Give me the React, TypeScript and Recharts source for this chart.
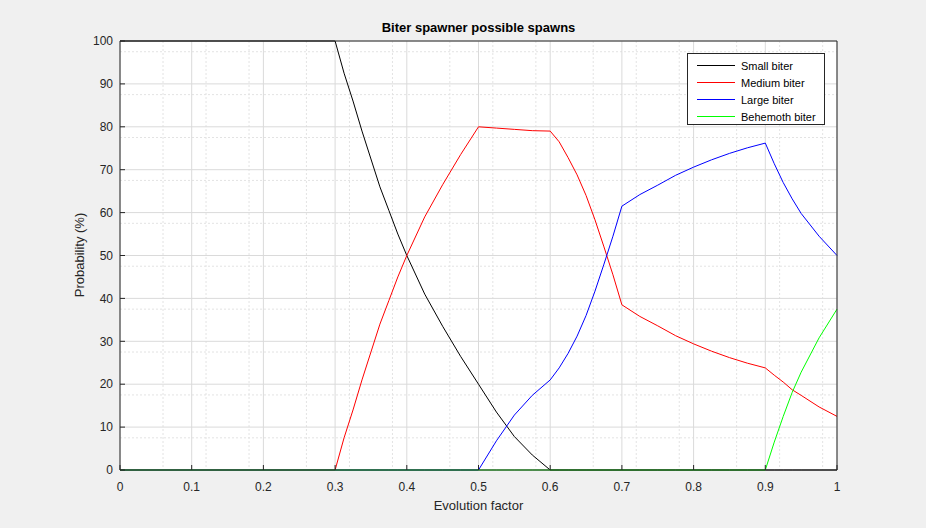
import React from 'react';
import { LineChart, Line, XAxis, YAxis, CartesianGrid } from 'recharts';

// evolution factor samples
const evolution = [
  0, 0.3,
  0.3125, 0.325, 0.3375, 0.35, 0.3625, 0.375, 0.3875, 0.4,
  0.425, 0.45, 0.475, 0.5,
  0.525, 0.55, 0.575, 0.6,
  0.6125, 0.625, 0.6375, 0.65, 0.6625, 0.675, 0.6875, 0.7,
  0.725, 0.75, 0.775, 0.8, 0.825, 0.85, 0.875, 0.9,
  0.9125, 0.925, 0.9375, 0.95, 0.975, 1,
];

// spawn probability in %
const smallBiter = [
  100, 100,
  92.5, 86, 79, 72.5, 66, 60.5, 55, 50,
  41, 33.5, 26.5, 20,
  13.5, 7.8, 3.5, 0,
  0, 0, 0, 0, 0, 0, 0, 0,
  0, 0, 0, 0, 0, 0, 0, 0,
  0, 0, 0, 0, 0, 0,
];
const mediumBiter = [
  0, 0,
  7.5, 14, 21, 27.5, 34, 39.5, 45, 50,
  59, 66.5, 73.5, 80,
  79.7, 79.4, 79.1, 79,
  76.5, 72.8, 68.8, 64, 58.3, 52, 45.5, 38.5,
  35.8, 33.6, 31.3, 29.4, 27.7, 26.2, 24.9, 23.8,
  22.1, 20.5, 18.7, 17.4, 14.7, 12.5,
];
const largeBiter = [
  0, 0,
  0, 0, 0, 0, 0, 0, 0, 0,
  0, 0, 0, 0,
  6.8, 12.8, 17.4, 21,
  23.8, 27.2, 31.2, 36, 41.7, 48, 54.5, 61.5,
  64.2, 66.4, 68.7, 70.6, 72.3, 73.8, 75.1, 76.2,
  71.4, 67, 63.2, 59.8, 54.5, 50,
];
const behemothBiter = [
  0, 0,
  0, 0, 0, 0, 0, 0, 0, 0,
  0, 0, 0, 0,
  0, 0, 0, 0,
  0, 0, 0, 0, 0, 0, 0, 0,
  0, 0, 0, 0, 0, 0, 0, 0,
  6.5, 12.5, 18.1, 22.8, 30.8, 37.5,
];

const xTicks = [0, 0.1, 0.2, 0.3, 0.4, 0.5, 0.6, 0.7, 0.8, 0.9, 1];
const yTicks = [0, 10, 20, 30, 40, 50, 60, 70, 80, 90, 100];

// minor grid: 5 steps per major x, 4 per major y
const xMinor = Array.from({ length: 51 }, (_, i) => i / 50).filter((_, i) => i % 5 !== 0);
const yMinor = Array.from({ length: 41 }, (_, i) => i * 2.5).filter((_, i) => i % 4 !== 0);

const series = [
  { key: 'small', name: 'Small biter', color: '#000000' },
  { key: 'medium', name: 'Medium biter', color: '#ff0000' },
  { key: 'large', name: 'Large biter', color: '#0000ff' },
  { key: 'behemoth', name: 'Behemoth biter', color: '#00ff00' },
];

const data = evolution.map((x, i) => ({
  x,
  small: smallBiter[i],
  medium: mediumBiter[i],
  large: largeBiter[i],
  behemoth: behemothBiter[i],
}));

const FONT = '"Liberation Sans", Arial, Helvetica, sans-serif';
const AXIS = '#262626';
const tickStyle = { fontSize: 12, fill: AXIS, fontFamily: FONT };

export default function App() {
  return (
    <div
      style={{
        position: 'absolute',
        left: 0,
        top: 0,
        width: 926,
        height: 528,
        background: '#f0f0f0',
        fontFamily: FONT,
      }}
    >
      <LineChart
        width={926}
        height={528}
        data={data}
        margin={{ top: 40, right: 88, bottom: 0, left: 60 }}
      >
        <CartesianGrid
          fill="#ffffff"
          stroke="#e3e3e3"
          strokeDasharray="2 2"
          verticalValues={xMinor}
          horizontalValues={yMinor}
        />
        <CartesianGrid stroke="#dadada" verticalValues={xTicks} horizontalValues={yTicks} />
        <XAxis
          dataKey="x"
          type="number"
          domain={[0, 1]}
          ticks={xTicks}
          height={58}
          tickSize={-5}
          tickMargin={17}
          stroke={AXIS}
          tick={tickStyle}
        />
        <XAxis
          xAxisId="top"
          orientation="top"
          dataKey="x"
          type="number"
          domain={[0, 1]}
          ticks={xTicks}
          height={1}
          tickSize={-5}
          stroke={AXIS}
          tick={false}
        />
        <YAxis
          type="number"
          domain={[0, 100]}
          ticks={yTicks}
          width={60}
          tickSize={-5}
          tickMargin={12}
          stroke={AXIS}
          tick={tickStyle}
        />
        <YAxis
          yAxisId="right"
          orientation="right"
          type="number"
          domain={[0, 100]}
          ticks={yTicks}
          width={1}
          tickSize={-5}
          stroke={AXIS}
          tick={false}
        />
        {series.map((s) => (
          <Line
            key={s.key}
            type="linear"
            dataKey={s.key}
            name={s.name}
            stroke={s.color}
            strokeWidth={1}
            dot={false}
            activeDot={false}
            isAnimationActive={false}
          />
        ))}
      </LineChart>

      <div
        style={{
          position: 'absolute',
          left: 120,
          width: 717,
          top: 20,
          textAlign: 'center',
          fontSize: 13,
          fontWeight: 'bold',
          lineHeight: '16px',
          color: '#000',
        }}
      >
        Biter spawner possible spawns
      </div>
      <div
        style={{
          position: 'absolute',
          left: 120,
          width: 717,
          top: 498,
          textAlign: 'center',
          fontSize: 13,
          lineHeight: '16px',
          color: AXIS,
        }}
      >
        Evolution factor
      </div>
      <div
        style={{
          position: 'absolute',
          left: 80,
          top: 255,
          transform: 'translate(-50%, -50%) rotate(-90deg)',
          whiteSpace: 'nowrap',
          fontSize: 13,
          lineHeight: '16px',
          color: AXIS,
        }}
      >
        Probability (%)
      </div>

      {/* legend */}
      <div
        style={{
          position: 'absolute',
          left: 687,
          top: 53,
          width: 136,
          height: 70,
          background: '#fff',
          border: `1px solid ${AXIS}`,
        }}
      >
        {series.map((s, i) => (
          <div
            key={s.key}
            style={{
              position: 'absolute',
              left: 9,
              top: 3 + i * 17,
              height: 17,
              display: 'flex',
              alignItems: 'center',
              fontSize: 11,
              color: '#000',
              whiteSpace: 'nowrap',
            }}
          >
            <span style={{ display: 'inline-block', width: 38, height: 1, background: s.color, marginRight: 6 }} />
            {s.name}
          </div>
        ))}
      </div>
    </div>
  );
}
